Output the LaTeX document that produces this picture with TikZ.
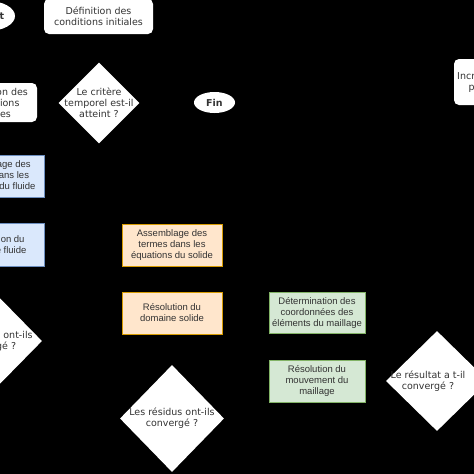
\documentclass[tikz,border=0pt]{standalone}
\usepackage{fontspec}
\setmainfont{DejaVu Sans}
\newfontfamily\arialf{Liberation Sans}
\usetikzlibrary{shapes.geometric}
\definecolor{txtgray}{HTML}{333333}
\definecolor{bluef}{HTML}{DAE8FC}
\definecolor{blued}{HTML}{6C8EBF}
\definecolor{orangef}{HTML}{FFE6CC}
\definecolor{oranged}{HTML}{D79B00}
\definecolor{greenf}{HTML}{D5E8D4}
\definecolor{greend}{HTML}{82B366}
\tikzset{
  wfont/.style={font=\fontsize{9.5}{10.8}\selectfont},
  wbox/.style={rectangle, rounded corners=5pt, fill=white, draw=none, text=txtgray, align=center, inner sep=0pt, wfont},
  cbox/.style={rectangle, line width=0.8pt, text=txtgray, align=center, inner sep=0pt, font=\arialf\fontsize{9.5}{11}\selectfont, minimum width=100pt, minimum height=42pt},
  bluebox/.style={cbox, fill=bluef, draw=blued},
  orangebox/.style={cbox, fill=orangef, draw=oranged},
  greenbox/.style={cbox, fill=greenf, draw=greend},
  dia/.style={diamond, aspect=1, fill=white, draw=none, inner sep=0pt},
  dtext/.style={text=txtgray, align=center, inner sep=0pt, wfont},
  term/.style={ellipse, fill=white, draw=none, inner sep=0pt, text=txtgray, font=\bfseries\fontsize{9.5}{10.8}\selectfont},
}
\begin{document}
\begin{tikzpicture}[x=1pt,y=-1pt]
\useasboundingbox (0,0) rectangle (474,474);
\fill[black] (0,0) rectangle (474,474);
\clip (0,0) rectangle (474,474);

\node[term, minimum width=54pt, minimum height=30pt] (debut) at (-12,16) {Début};
\node[wbox, minimum width=109pt, minimum height=35pt] (definit) at (98.5,16.5) {Définition des\\conditions initiales};
\node[wbox, minimum width=84pt, minimum height=39pt] (limites) at (-5,102.5) {Définition des\\conditions\\limites};
\node[dia, minimum width=81pt, minimum height=81pt, label={[dtext]center:Le critère\\temporel est-il\\atteint ?}] (critere) at (99,103) {};
\node[term, minimum width=41pt, minimum height=21pt] (fin) at (214.5,102.5) {Fin};
\node[wbox, minimum width=94pt, minimum height=46pt] (incr) at (501,82) {Incrémentation du\\pas de temps};

\node[bluebox, minimum width=97pt] (assf) at (-4.5,176) {Assemblage des\\termes dans les\\équations du fluide};
\node[bluebox, minimum width=97pt, minimum height=43pt] (resf) at (-4.5,244.5) {Résolution du\\domaine fluide};

\node[orangebox] (asss) at (172,245) {Assemblage des\\termes dans les\\équations du solide};
\node[orangebox] (ress) at (172,313) {Résolution du\\domaine solide};

\node[greenbox, minimum width=96pt, minimum height=41pt] (coord) at (317,312.5) {Détermination des\\coordonnées des\\éléments du maillage};
\node[greenbox, minimum width=96pt] (mvt) at (317,381) {Résolution du\\mouvement du\\maillage};

\node[dia, minimum width=104pt, minimum height=106pt, label={[dtext]center:Les résidus ont-ils\\convergé ?}] (resf2) at (-10,341) {};
\node[dia, minimum width=104pt, minimum height=107pt, label={[dtext]center:Les résidus ont-ils\\convergé ?}] (ress2) at (172,418.5) {};
\node[dia, minimum width=102pt, minimum height=100pt, label={[dtext, xshift=-9pt]center:Le résultat a t-il\\convergé ?}] (result) at (437,381) {};
\end{tikzpicture}
\end{document}
